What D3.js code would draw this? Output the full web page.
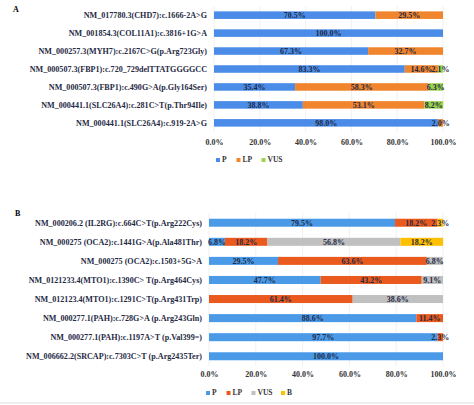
<!DOCTYPE html>
<html><head><meta charset="utf-8">
<script src="https://cdn.jsdelivr.net/npm/d3@7"></script>
<style>body{margin:0;background:#fff}text{font-family:"Liberation Serif",serif;font-weight:bold}</style>
</head><body><svg id="c" width="474" height="405"></svg>
<script>
// panel A
var catsA = ["NM_017780.3(CHD7):c.1666-2A>G", "NM_001854.3(COL11A1):c.3816+1G>A", "NM_000257.3(MYH7):c.2167C>G(p.Arg723Gly)",
  "NM_000507.3(FBP1):c.720_729delTTATGGGGCC", "NM_000507.3(FBP1):c.490G>A(p.Gly164Ser)", "NM_000441.1(SLC26A4):c.281C>T(p.Thr94Ile)",
  "NM_000441.1(SLC26A4):c.919-2A>G"];
var seriesA = ["P", "LP", "VUS"];
var pA = [70.5, 100, 67.3, 83.3, 35.4, 38.8, 98.0];
var lpA = [29.5, 0, 32.7, 14.6, 58.3, 53.1, 2.0];
var vusA = [0, 0, 0, 2.1, 6.3, 8.2, 0];
// panel B
var catsB = ["NM_000206.2 (IL2RG):c.664C>T(p.Arg222Cys)", "NM_000275 (OCA2):c.1441G>A(p.Ala481Thr)", "NM_000275 (OCA2):c.1503+5G>A",
  "NM_0121233.4(MTO1):c.1390C> T(p.Arg464Cys)", "NM_012123.4(MTO1):c.1291C>T(p.Arg431Trp)", "NM_000277.1(PAH):c.728G>A (p.Arg243Gln)",
  "NM_000277.1(PAH):c.1197A>T (p.Val399=)", "NM_006662.2(SRCAP):c.7303C>T (p.Arg2435Ter)"];
var seriesB = ["P", "LP", "VUS", "B"];
var pB = [79.5, 6.8, 29.5, 47.7, 0, 88.6, 97.7, 100];
var lpB = [18.2, 18.2, 63.6, 43.2, 61.4, 11.4, 2.3, 0];
var vusB = [0, 56.8, 6.8, 9.1, 38.6, 0, 0, 0];
var bB = [2.3, 18.2, 0, 0, 0, 0, 0, 0];
var ticks = [0, 20, 40, 60, 80, 100];

var svg = d3.select("#c");

function panel(o) {
  var g = svg.append("g");
  var x = d3.scaleLinear().domain([0, 100]).range([o.x0, 443]);
  var y = d3.scaleBand().domain(o.cats).range([o.y0, o.y1]).paddingInner(0.58).paddingOuter(0.3);
  g.selectAll(".grid").data(ticks).enter().append("line")
    .attr("x1", x).attr("x2", x).attr("y1", o.y0).attr("y2", o.y1).attr("stroke", "#e6e6e6").attr("stroke-width", 0.6);
  o.cats.forEach(function (c, i) {
    var acc = 0;
    o.series.forEach(function (s, k) {
      var v = o.vals[k][i];
      if (!v) return;
      g.append("rect").attr("x", x(acc)).attr("y", y(c)).attr("width", x(acc + v) - x(acc)).attr("height", y.bandwidth()).attr("fill", o.colors[k]);
      g.append("text").attr("x", x(acc + v / 2)).attr("y", y(c) + y.bandwidth() / 2 + 2.8).attr("text-anchor", "middle")
        .attr("font-size", 8).attr("fill", "#1f2a44").text(v.toFixed(1) + "%");
      acc += v;
    });
    g.append("text").attr("x", o.x0 - 7).attr("y", y(c) + y.bandwidth() / 2 + 2.8).attr("text-anchor", "end")
      .attr("font-size", 8.1).attr("fill", "#1f2a44").text(c);
  });
  var ax = g.append("g").attr("transform", "translate(0," + o.axisY + ")")
    .call(d3.axisBottom(x).tickValues(ticks).tickSize(0).tickFormat(function (d) { return d.toFixed(1) + "%"; }));
  ax.select(".domain").remove();
  ax.selectAll("text").attr("font-size", 8).attr("fill", "#333").style("font-family", "Liberation Serif").style("font-weight", "bold");
  var lx = o.legX;
  o.series.forEach(function (s, k) {
    g.append("rect").attr("x", lx).attr("y", o.legY - 4).attr("width", 4).attr("height", 4).attr("fill", o.colors[k]);
    g.append("text").attr("x", lx + 6).attr("y", o.legY).attr("font-size", 7.5).attr("font-weight", "normal").attr("fill", "#333").text(s);
    lx += 16 + s.length * 4.5;
  });
  g.append("text").attr("x", o.labX).attr("y", o.labY).attr("font-size", 8).attr("font-family", "Liberation Sans").text(o.label);
}

panel({cats: catsA, series: seriesA, vals: [pA, lpA, vusA], colors: ["#4a8ce8", "#f0852d", "#9bd34b"],
  x0: 214, y0: 6, y1: 132, axisY: 136, legX: 216, legY: 162, labX: 13, labY: 12, label: "A"});
panel({cats: catsB, series: seriesB, vals: [pB, lpB, vusB, bB], colors: ["#4a9ae8", "#ea5a1e", "#c0c0c0", "#ffc000"],
  x0: 209, y0: 213, y1: 366, axisY: 368, legX: 206, legY: 395, labX: 15, labY: 216, label: "B"});
svg.append("line").attr("x1", 0).attr("x2", 474).attr("y1", 403).attr("y2", 403).attr("stroke", "#ddd");
</script></body></html>
